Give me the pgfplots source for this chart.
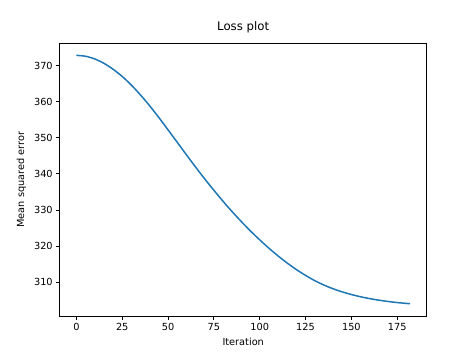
\documentclass[border=0pt]{standalone}
\usepackage{pgfplots}
\pgfplotsset{compat=1.18}
\usepackage{fontspec}
\setmainfont{DejaVu Sans}
\definecolor{tabblue}{HTML}{1F77B4}
\begin{document}
\begin{tikzpicture}[x=1bp,y=1bp]
\path[use as bounding box] (0,0) rectangle (474,355);
\begin{axis}[
  at={(59.7bp,39bp)}, anchor=south west,
  scale only axis, width=367bp, height=272.7bp,
  xmin=-9.1, xmax=191.1, ymin=300.6, ymax=376.2,
  xtick={0,25,50,75,100,125,150,175},
  ytick={310,320,330,340,350,360,370},
  tick align=outside, tick pos=left,
  major tick length=3.5bp,
  axis line style={line width=0.8bp, black},
  every tick/.style={line width=0.8bp, black},
  tick label style={font=\fontsize{9.8}{11}\selectfont},
  /pgf/number format/assume math mode=true,
  label style={font=\fontsize{9.8}{11}\selectfont},
  xlabel={Iteration}, ylabel={Mean squared error},
  title={Loss plot},
  title style={font=\fontsize{11.8}{13}\selectfont, yshift=1bp},
  xlabel style={yshift=-0.5bp},
  ylabel style={yshift=1bp},
  clip=false,
]
\addplot[tabblue, line width=1.5bp, smooth] table {
x y
0 372.86
5 372.61
10 371.86
15 370.66
20 369.01
25 367.01
30 364.61
35 361.86
40 358.86
45 355.61
50 352.21
55 348.76
60 345.31
65 341.91
70 338.61
75 335.46
80 332.41
85 329.51
90 326.76
95 324.16
100 321.71
105 319.41
110 317.26
115 315.28
120 313.48
125 311.86
130 310.41
135 309.19
140 308.16
145 307.29
150 306.56
155 305.94
160 305.42
165 304.99
170 304.63
175 304.33
180 304.09
182 304.00
};
\end{axis}
\end{tikzpicture}
\end{document}
